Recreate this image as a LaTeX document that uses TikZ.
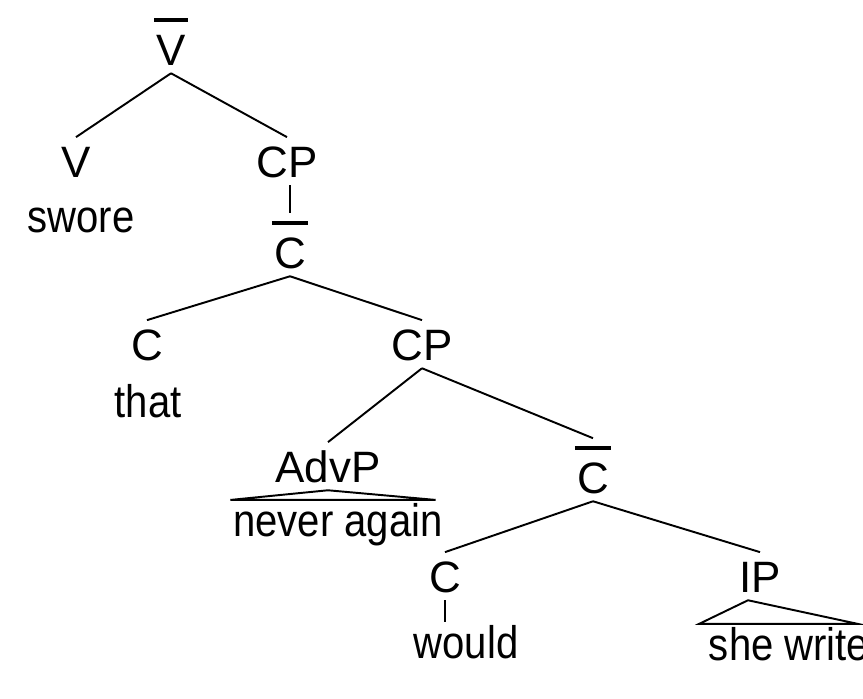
\documentclass[tikz,border=0pt]{standalone}
\usepackage{fontspec}
\usepackage{graphicx}
\setmainfont{Liberation Sans}
\usetikzlibrary{calc}

% category label with a bar over it
\newcommand{\catbar}[1]{\setbox0\hbox{#1}\makebox[0pt][l]{\hspace{-0.05em}\rule[0.975em]{\dimexpr\wd0+0.1em\relax}{0.085em}}\box0}
% words are set a little taller
\newcommand{\tallword}[1]{\scalebox{1}[1.14]{#1}}

\begin{document}
\begin{tikzpicture}[x=0.02cm, y=-0.02cm,
    cat/.style={font=\fontsize{25}{30}\selectfont, anchor=base, inner sep=4.5pt, text height=18pt, text depth=0pt},
    barcat/.style={cat, text height=26.5pt},
    word/.style={font=\fontsize{22.8}{27}\selectfont, anchor=base, inner sep=1.5pt},
    branch/.style={line width=1.1pt}]

    \useasboundingbox (0,0) rectangle (863,698);
    \clip (0,0) rectangle (863,698);

    % Labels
    \node[barcat] (Vbar) at (171, 65) {\catbar{V}};
    \node[cat] (V) at (76, 177) {V};
    \node[word] (swore) at (81, 232) {\tallword{swore}};
    \node[cat] (CPa) at (287, 177) {CP};
    \node[barcat] (Cbara) at (290, 268) {\catbar{C}};
    \node[cat] (Ca) at (147, 360) {C};
    \node[word] (that) at (148, 417) {\tallword{that}};
    \node[cat] (CPb) at (422, 360) {CP};
    \node[cat] (AdvP) at (328, 482) {AdvP};
    \node[word] (never) at (338, 536) {\tallword{never again}};
    \node[barcat] (Cbarb) at (593, 493) {\catbar{C}};
    \node[cat] (Cb) at (445, 592) {C};
    \node[word] (would) at (466, 658) {\tallword{would}};
    \node[cat] (IP) at (760, 592) {IP};
    \node[word, anchor=base west] (she) at (706, 660) {\tallword{she write}};

    % Branches
    \draw[branch] (Vbar.south) -- (V.north);
    \draw[branch] (Vbar.south) -- (CPa.north);
    \draw[branch] (Cbara.north |- CPa.south) -- (Cbara.north);
    \draw[branch] (Cbara.south) -- (Ca.north);
    \draw[branch] (Cbara.south) -- (CPb.north);
    \draw[branch] (CPb.south) -- (AdvP.north);
    \draw[branch] (CPb.south) -- (Cbarb.north);
    \draw[branch] (Cbarb.south) -- (Cb.north);
    \draw[branch] (Cbarb.south) -- (IP.north);
    \draw[branch] (Cb.south) -- (Cb.south |- would.north);

    % Triangles
    \draw[branch] (AdvP.south) -- (never.north west) -- ($(never.north east)+(-10,0)$) -- cycle;
    \draw[branch] ($(IP.south)+(-12,0)$) -- ($(she.north west)+(-7,0)$) -- ($(she.north west)+(152,0)$) -- cycle;
\end{tikzpicture}
\end{document}
